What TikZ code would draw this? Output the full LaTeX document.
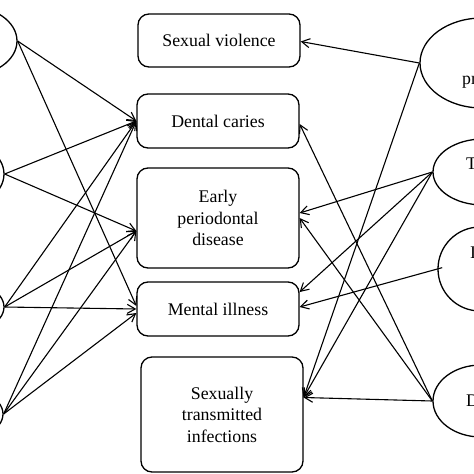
\documentclass[tikz,border=0pt]{standalone}
\usepackage{fontspec}
\setmainfont{Liberation Serif}
\usetikzlibrary{arrows.meta,shapes.geometric}
\begin{document}
\begin{tikzpicture}[x=1pt,y=-1pt,
  txt/.style={font=\fontsize{17.8}{21.5}\selectfont},
  box/.style={txt, draw, line width=1.3pt, rounded corners=11pt, minimum width=162pt, align=center, inner sep=0pt},
  oval/.style={draw, line width=1.3pt, ellipse, inner sep=0pt},
  link/.style={line width=1.1pt, -{Straight Barb[length=8pt,width=9pt,line width=1.1pt]}}]
\useasboundingbox (0,0) rectangle (474,474);
\clip (0,0) rectangle (474,474);
% centre boxes
\node[box, minimum height=53pt] (SV) at (219,40.5) {Sexual violence};
\node[box, minimum height=54pt] (DC) at (218,121) {Dental caries};
\node[box, minimum height=100pt] (EP) at (218,218) {Early\\periodontal\\disease};
\node[box, minimum height=54pt] (MI) at (218,309) {Mental illness};
\node[box, minimum height=115pt] (STI) at (222,414.5) {Sexually\\transmitted\\infections};
% left ovals
\node[oval, minimum width=100pt, minimum height=70pt] (E1) at (-33,41) {};
\node[oval, minimum width=100pt, minimum height=70pt] (E2) at (-46,174) {};
\node[oval, minimum width=100pt, minimum height=56pt] (E3) at (-46,307) {};
\node[oval, minimum width=100pt, minimum height=56pt] (E4) at (-47,414) {};
% right ovals
\node[oval, minimum width=124pt, minimum height=90pt] (R1) at (482,63) {};
\node[oval, minimum width=100pt, minimum height=66pt] (R2) at (483,172) {};
\node[oval, minimum width=84pt, minimum height=84pt] (R3) at (480,269) {};
\node[oval, minimum width=96pt, minimum height=72pt] (R4) at (481,401) {};
\node[txt, anchor=base west, inner sep=0pt] (R1t) at (462,84) {pr};
\node[txt, anchor=base west, inner sep=0pt] (R2t) at (466,169) {T};
\node[txt, anchor=base west, inner sep=0pt] (R3t) at (470,258) {I};
\node[txt, anchor=base west, inner sep=0pt] (R4t) at (466,406) {D};
% left links
\draw[link] (E1.east) -- (DC.west);
\draw[link] (E1.east) -- ([yshift=3pt]MI.west);
\draw[link] (E2.east) -- (DC.west);
\draw[link] (E2.east) -- ([yshift=-13pt]EP.west);
\draw[link] (E3.east) -- (DC.west);
\draw[link] (E3.east) -- ([yshift=-13pt]EP.west);
\draw[link] (E3.east) -- (MI.west);
\draw[link] (E4.east) -- (DC.west);
\draw[link] (E4.east) -- ([yshift=-13pt]EP.west);
\draw[link] (E4.east) -- ([yshift=-4pt]MI.west);
% right links
\draw[link] (R1.west) -- ([yshift=-1pt]SV.east);
\draw[link] (R1.west) -- ([yshift=17pt]STI.east);
\draw[link] (R2.west) -- ([yshift=5pt]EP.east);
\draw[link] (R2.west) -- ([yshift=17pt]MI.east);
\draw[link] (R2.west) -- ([yshift=17pt]STI.east);
\draw[link, shorten <=-5pt] (R3.west) -- ([yshift=2pt]MI.east);
\draw[link] (R4.west) -- ([yshift=-3pt]DC.east);
\draw[link] (R4.west) -- (EP.east);
\draw[link] (R4.west) -- ([yshift=17pt]STI.east);
\end{tikzpicture}
\end{document}
